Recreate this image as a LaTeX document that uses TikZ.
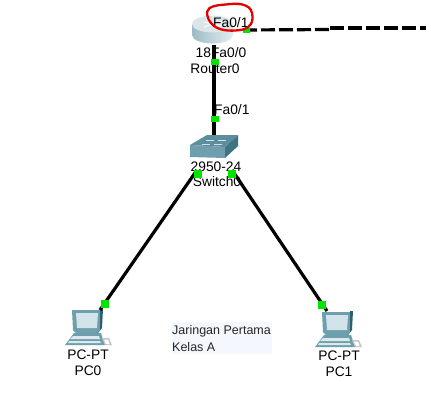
\documentclass[tikz,border=0pt]{standalone}
\usepackage{fontspec}
\setmainfont{Liberation Sans}
\definecolor{rtop}{HTML}{DCE6E9}
\definecolor{rsidea}{HTML}{9DBBC4}
\definecolor{rsideb}{HTML}{E4EEF0}
\definecolor{swfront}{HTML}{6F9FAE}
\definecolor{swside}{HTML}{3F7484}
\definecolor{swtop}{HTML}{5E8E9E}
\definecolor{pcframe}{HTML}{6E9FAD}
\definecolor{pcdark}{HTML}{2E5F70}
\definecolor{pcscreen}{HTML}{D2E3EA}
\definecolor{pcbase}{HTML}{8FB3BE}
\definecolor{notebg}{HTML}{F5F7FF}
\begin{document}
\begin{tikzpicture}[x=1pt,y=-1pt,
  lbl/.style={inner sep=0pt,font=\fontsize{13.8}{15}\selectfont,text=black},
  notelbl/.style={inner sep=0pt,font=\fontsize{12.5}{14}\selectfont,text=black!85},
  port/.style={rectangle,fill=green!90!black,minimum width=8pt,minimum height=8pt,inner sep=0pt},
  link/.style={draw=black,line width=3.2pt},
  wan/.style={link,dash pattern=on 14pt off 4pt},
  redmark/.style={draw=red!90!black,line width=2.3pt,line cap=round},
  pcicon/.pic={
    \fill[pcframe] (2,23) -- (29,23) -- (33,35) -- (-7,35) -- cycle;
    \fill[white!70!pcbase] (1,26) -- (27,26) -- (28,29) -- (-2,29) -- cycle;
    \fill[white!70!pcbase] (-3,31) -- (28,31) -- (29,33) -- (-4,33) -- cycle;
    \fill[gray!45] (30,28) -- (37,28) -- (40,35) -- (33,35) -- cycle;
    \fill[white] (32,29.5) -- (36,29.5) -- (37.5,34) -- (34,34) -- cycle;
    \fill[pcframe] (0,0) -- (29,0) -- (28,20) -- (25,23) -- (4,23) -- (1,20) -- cycle;
    \fill[pcscreen] (4,3) -- (26,3) -- (25,18) -- (5,18) -- cycle;
    \fill[pcdark] (28,-1) -- (31,-1) -- (30,18) -- (26,23) -- (25,23) -- (28,20) -- cycle;
  }]
\useasboundingbox (0,0) rectangle (429,416);
\fill[white] (0,0) rectangle (429,416);
% router
\shade[left color=rsidea,right color=rsideb] (192,24) -- (192,35) .. controls (192,40) and (202,43.5) .. (212.5,43.5) .. controls (223,43.5) and (233,40) .. (233,35) -- (233,24) -- cycle;
\fill[rtop] (212.5,24) ellipse[x radius=20.5,y radius=8.5];
\draw[white,line width=.8pt] (204,22) -- (222,26);
\draw[white,line width=.8pt] (222,21) -- (204,27);
% switch
\fill[swfront] (190,145) -- (225,147) -- (225,158) -- (190,157) -- cycle;
\fill[swside] (225,147) -- (238,135) -- (238,146) -- (225,158) -- cycle;
\fill[swtop] (190,145) -- (207,135) -- (238,135) -- (225,147) -- cycle;
\draw[white!70!swfront,line width=1pt] (206,140) -- (214,140) (218,140) -- (226,140) (202,144) -- (210,144) (214,144) -- (222,144);
% PCs
\pic at (72,310) {pcicon};
\pic at (322,312) {pcicon};
% note
\fill[notebg] (172,322) rectangle (272,354);
\node[notelbl,anchor=west] (note1) at (172,331) {Jaringan Pertama};
\node[notelbl,anchor=west] (note2) at (172,347) {Kelas A};
% labels
\node[lbl,anchor=east] (rmodel) at (246.5,53) {18Fa0/0};
\node[lbl] (rname) at (215,69) {Router0};
\node[lbl,anchor=west] (rport) at (213,22.5) {Fa0/1};
\node[lbl,anchor=west] (sport) at (214,110) {Fa0/1};
\node[lbl] (smodel) at (216,167) {2950-24};
\node[lbl] (sname) at (217,182) {Switch0};
\node[lbl] (p0model) at (88,355) {PC-PT};
\node[lbl] (p0name) at (88,371) {PC0};
\node[lbl] (p1model) at (339,356) {PC-PT};
\node[lbl] (p1name) at (339,372) {PC1};
% anchors of links
\coordinate (rport1) at (243,30);
\coordinate (wanmid) at (330,29.5);
\coordinate (wanmid2) at (330,28);
\coordinate (wanend) at (426,28);
\coordinate (rbot) at (214,45);
\coordinate (stop) at (214,135);
\coordinate (sl) at (197,170);
\coordinate (sr) at (232,170);
\coordinate (pc0) at (100,310);
\coordinate (pc1) at (327,311);
% links
\path[wan] (rport1) -- (wanmid);
\path[wan] (wanmid2) -- (wanend);
\path[link] (rbot) -- (stop);
\path[link] (sl) -- (pc0);
\path[link] (sr) -- (pc1);
% ports
\node[port,minimum height=6pt] (pr1) at (215,62) {};
\node[port,minimum height=6pt] (pr2) at (215,118.5) {};
\node[port] (ps1) at (198,173.5) {};
\node[port] (ps2) at (232,173.5) {};
\node[port] (pp0) at (104.5,304) {};
\node[port] (pp1) at (322,305) {};
\node[port,minimum width=7pt,minimum height=5pt] (pw) at (246,30) {};
% red circle
\path[redmark] (207,12) .. controls (208,6) and (218,5) .. (226,4.5) .. controls (236,3) and (250,3) .. (252,13) .. controls (254,22) and (250,28) .. (243,29.5) .. controls (235,31) and (222,32) .. (214,26) .. controls (209,22) and (207,17) .. (207,12);
\end{tikzpicture}
\end{document}
